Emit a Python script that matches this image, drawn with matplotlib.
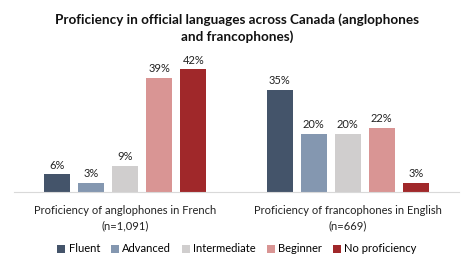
import matplotlib
matplotlib.use("Agg")
import matplotlib.pyplot as plt
import numpy as np
from matplotlib.patches import Patch

groups = ["Proficiency of anglophones in French\n(n=1,091)",
          "Proficiency of francophones in English\n(n=669)"]
levels = ["Fluent", "Advanced", "Intermediate", "Beginner", "No proficiency"]
anglophones = [6, 3, 9, 39, 42]
francophones = [35, 20, 20, 22, 3]
colors = ["#44546A", "#8497B0", "#D0CECE", "#D99594", "#A0282A"]

plt.rcParams['font.family'] = ['Lato', 'DejaVu Sans']

fig = plt.figure(figsize=(4.74, 2.69), dpi=100)
ax = fig.add_axes([14/474, 1-192/269, 445/474, 132/269])

x = np.arange(len(groups))
w = 0.117
step = 0.153
vals = np.array([anglophones, francophones])
for i, lv in enumerate(levels):
    xs = x + (i - 2) * step
    ax.bar(xs, vals[:, i], width=w, color=colors[i], label=lv)
    for xi, v in zip(xs, vals[:, i]):
        ax.text(xi, v + 1.3, f"{v}%", ha='center', va='bottom', fontsize=8, color='#222222')

ax.set_xlim(-0.5, 1.5)
ax.set_ylim(0, 45.2)
ax.set_yticks([])
ax.set_xticks(x)
ax.set_xticklabels(groups, fontsize=8, color='#222222', multialignment='center', linespacing=1.55)
ax.tick_params(axis='x', length=0, pad=9)
for s in ['top', 'right', 'left']:
    ax.spines[s].set_visible(False)
ax.spines['bottom'].set_color('#D9D9D9')

fig.text(0.5, 1-28/269, "Proficiency in official languages across Canada (anglophones\nand francophones)",
         ha='center', va='center', fontsize=9.7, fontweight='bold', color='#111111', linespacing=1.4)

handles = [Patch(facecolor=c, label=l) for c, l in zip(colors, levels)]
fig.legend(handles=handles, loc='center', bbox_to_anchor=(0.5, 1-249/269), ncol=5, frameon=False,
           fontsize=8, handlelength=0.7, handleheight=0.7, handletextpad=0.3, columnspacing=1.0)

fig.savefig("out.png", dpi=100, facecolor='white')
